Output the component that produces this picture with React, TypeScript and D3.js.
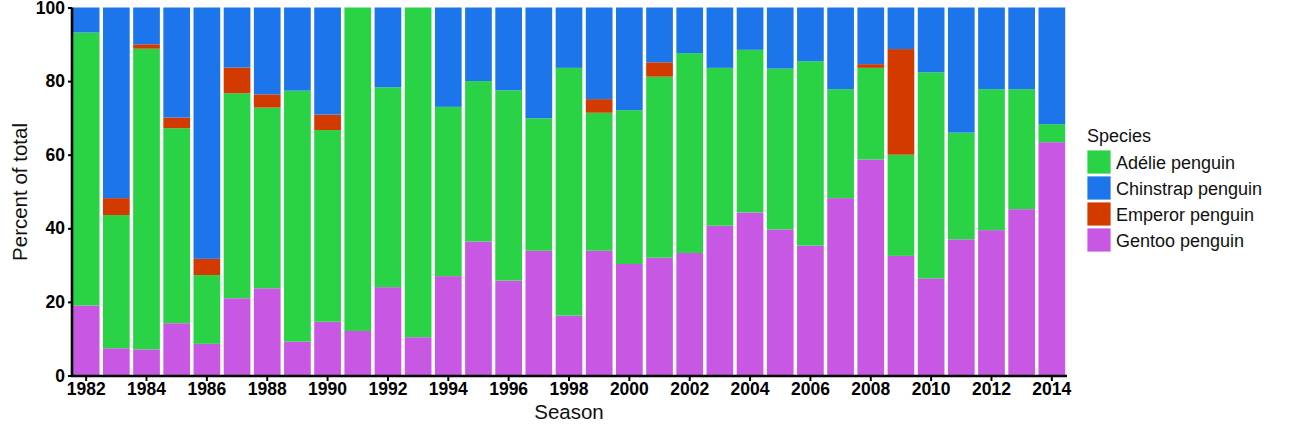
import React, { useEffect, useRef } from 'react';
import * as d3 from 'd3';

// Breeding seasons, one bar each
const seasons = [
  1982, 1983, 1984, 1985, 1986, 1987, 1988, 1989, 1990, 1991, 1992,
  1993, 1994, 1995, 1996, 1997, 1998, 1999, 2000, 2001, 2002, 2003,
  2004, 2005, 2006, 2007, 2008, 2009, 2010, 2011, 2012, 2013, 2014,
];

// Percent of total per species
const gentoo = [
  19.0, 7.4, 7.1, 14.2, 8.6, 21.0, 23.7, 9.2, 14.6, 12.1, 24.0,
  10.4, 27.0, 36.4, 25.8, 33.9, 16.3, 33.9, 30.3, 32.0, 33.3, 40.7,
  44.3, 39.7, 35.3, 48.2, 58.7, 32.5, 26.4, 37.0, 39.5, 45.2, 63.4,
];
const adelie = [
  74.2, 36.2, 81.7, 53.0, 18.7, 55.7, 49.1, 68.2, 52.1, 87.9, 54.3,
  89.6, 46.0, 43.6, 51.7, 36.0, 67.3, 37.5, 41.8, 49.2, 54.3, 42.9,
  44.2, 43.7, 50.1, 29.6, 24.9, 27.5, 56.0, 29.0, 38.3, 32.6, 4.9,
];
const emperor = [
  0, 4.6, 1.2, 2.9, 4.4, 7.0, 3.6, 0, 4.2, 0, 0,
  0, 0, 0, 0, 0, 0, 3.7, 0, 3.9, 0, 0,
  0, 0, 0, 0, 1.0, 28.7, 0, 0, 0, 0, 0,
];
const chinstrap = [
  6.8, 51.8, 10.0, 29.9, 68.3, 16.3, 23.6, 22.6, 29.1, 0, 21.7,
  0, 27.0, 20.0, 22.5, 30.1, 16.4, 24.9, 27.9, 14.9, 12.4, 16.4,
  11.5, 16.6, 14.6, 22.2, 15.4, 11.3, 17.6, 34.0, 22.2, 22.2, 31.7,
];

const yTicks = [0, 20, 40, 60, 80, 100];

// Legend order
const species = ['Adélie penguin', 'Chinstrap penguin', 'Emperor penguin', 'Gentoo penguin'];
const speciesColors = ['#2ad246', '#1c75eb', '#d33a00', '#c858e4'];
// Stacking order, bottom to top
const stackOrder = ['Gentoo penguin', 'Adélie penguin', 'Emperor penguin', 'Chinstrap penguin'];

const Chart: React.FC = () => {
  const svgRef = useRef<SVGSVGElement>(null);

  useEffect(() => {
    if (!svgRef.current) return;
    const svg = d3.select(svgRef.current);
    svg.selectAll('*').remove();

    const width = 1294;
    const height = 431;
    svg.attr('width', width).attr('height', height);

    const rows = seasons.map((s, i) => ({
      season: s,
      'Gentoo penguin': gentoo[i],
      'Adélie penguin': adelie[i],
      'Emperor penguin': emperor[i],
      'Chinstrap penguin': chinstrap[i],
    }));

    const x = d3.scaleBand<number>()
      .domain(seasons)
      .range([71, 1067])
      .paddingInner(0.115)
      .paddingOuter(0.06);
    const y = d3.scaleLinear().domain([0, 100]).range([375.5, 7.5]);
    const color = d3.scaleOrdinal<string, string>().domain(species).range(speciesColors);

    const stack = d3.stack<any>().keys(stackOrder);
    const series = stack(rows);

    // stacked bars
    const layers = svg.append('g')
      .selectAll('g')
      .data(series)
      .enter().append('g')
      .attr('fill', (d) => color(d.key));

    layers.selectAll('rect')
      .data((d) => d)
      .enter().append('rect')
      .attr('x', (d: any) => x(d.data.season)!)
      .attr('width', x.bandwidth())
      .attr('y', (d) => y(d[1]))
      .attr('height', (d) => Math.max(0, y(d[0]) - y(d[1])));

    const tickFont = '"Liberation Sans", Arial, sans-serif';

    // y axis
    const yAxis = svg.append('g')
      .attr('transform', 'translate(72,0)')
      .call(d3.axisLeft(y).tickValues(yTicks).tickSize(4).tickPadding(3));
    yAxis.select('.domain').attr('stroke', '#000').attr('stroke-width', 2.6)
      .attr('d', `M0,${y(100)}V${y(0) + 1.3}`);
    yAxis.selectAll('.tick line').attr('stroke', '#000').attr('stroke-width', 2);
    yAxis.selectAll('.tick text')
      .attr('fill', '#000')
      .style('font-family', tickFont)
      .style('font-size', '17.5px')
      .style('font-weight', 'bold');

    // x axis, labels on even seasons
    const xAxis = svg.append('g')
      .attr('transform', 'translate(0,376)')
      .call(d3.axisBottom(x)
        .tickValues(seasons.filter((s) => s % 2 === 0))
        .tickFormat((d) => String(d))
        .tickSize(5)
        .tickPadding(2));
    xAxis.select('.domain').attr('stroke', '#000').attr('stroke-width', 2.6)
      .attr('d', 'M71,0H1067');
    xAxis.selectAll('.tick line').attr('stroke', '#000').attr('stroke-width', 2);
    xAxis.selectAll('.tick text')
      .attr('fill', '#000')
      .style('font-family', tickFont)
      .style('font-size', '17.5px')
      .style('font-weight', 'bold');

    // axis titles
    svg.append('text')
      .attr('transform', 'translate(27,192) rotate(-90)')
      .attr('text-anchor', 'middle')
      .style('font-family', tickFont)
      .style('font-size', '20.5px')
      .attr('fill', '#111')
      .text('Percent of total');

    svg.append('text')
      .attr('x', 569)
      .attr('y', 419)
      .attr('text-anchor', 'middle')
      .style('font-family', tickFont)
      .style('font-size', '20.5px')
      .attr('fill', '#111')
      .text('Season');

    // legend
    const legend = svg.append('g').attr('transform', 'translate(1087,0)');
    legend.append('text')
      .attr('x', 0)
      .attr('y', 142)
      .style('font-family', tickFont)
      .style('font-size', '18px')
      .attr('fill', '#111')
      .text('Species');

    const items = legend.selectAll('.item')
      .data(species)
      .enter().append('g')
      .attr('class', 'item')
      .attr('transform', (_, i) => `translate(0,${150 + i * 26})`);
    items.append('rect')
      .attr('width', 24)
      .attr('height', 24)
      .attr('fill', (d) => color(d))
      .attr('stroke', '#fff')
      .attr('stroke-width', 0.8);
    items.append('text')
      .attr('x', 29)
      .attr('y', 19)
      .style('font-family', tickFont)
      .style('font-size', '18px')
      .attr('fill', '#111')
      .text((d) => d);
  }, []);

  return <svg ref={svgRef} style={{ position: 'absolute', left: 0, top: 0, display: 'block' }}></svg>;
};

export default function App() {
  return <Chart />;
}
